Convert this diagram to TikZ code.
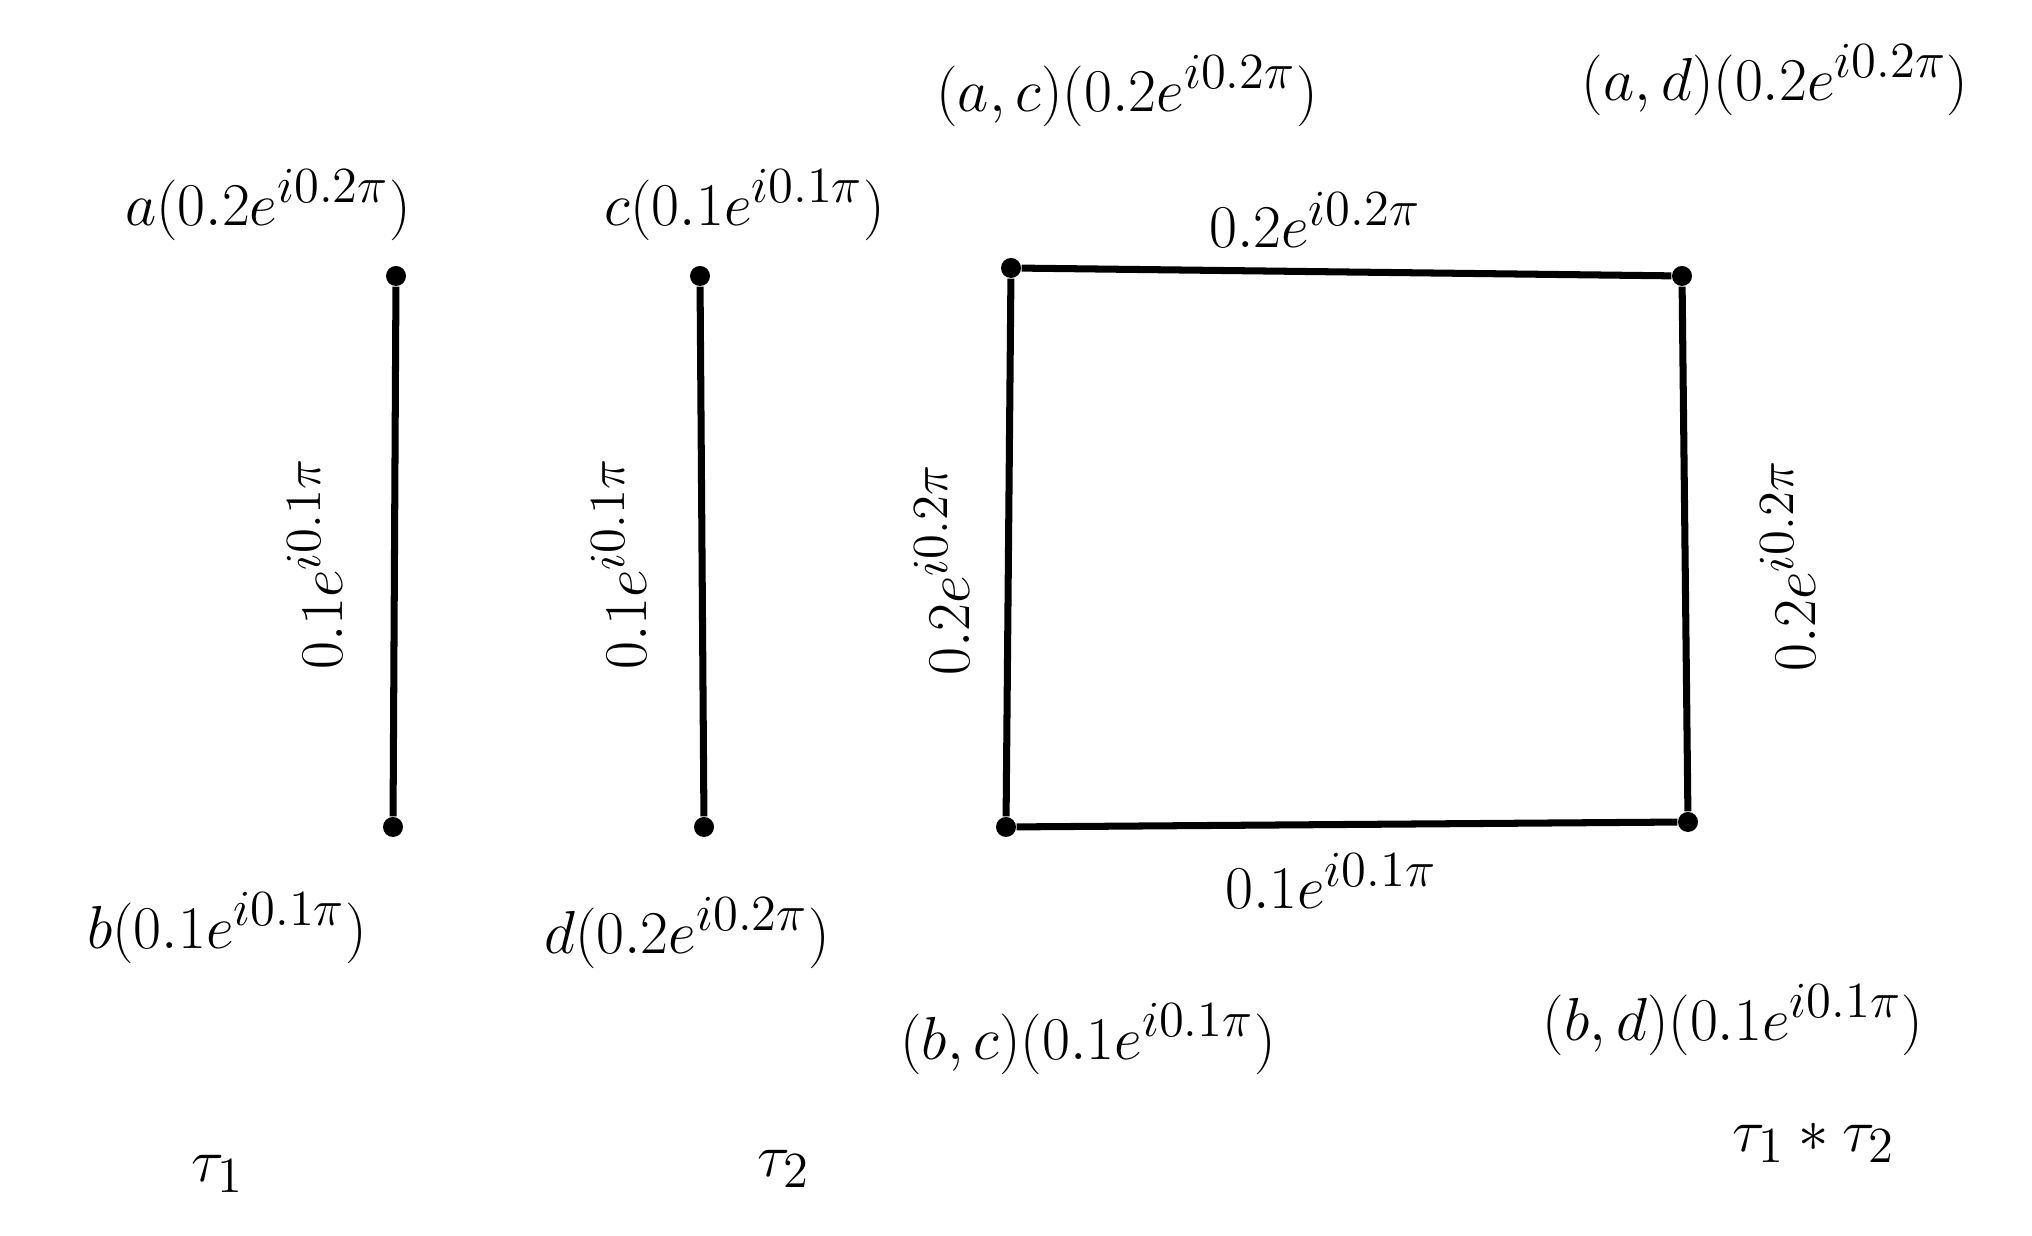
\documentclass[tikz,border=0pt]{standalone}
\usepackage{amsmath}
\usepackage{tikz}
\usetikzlibrary{positioning}
\DeclareMathSizes{18.8}{18.8}{14.2}{10}
\tikzstyle{edge} = [line width=2pt]
\tikzstyle{vtx} = [circle, fill=black, inner sep=0pt, minimum size=0.2cm]

\begin{document}
\begin{tikzpicture}[
    lbl/.style={font=\fontsize{18.8}{22}\selectfont},
    elbl/.style={font=\fontsize{18.8}{22}\selectfont, rotate=90}]

\useasboundingbox (0,0) rectangle (20.32,12.36);

% Vertices of tau_1 and tau_2
\node[vtx] (a) at (3.96,9.60) {};
\node[vtx] (b) at (3.93,4.09) {};
\node[vtx] (c) at (7.00,9.60) {};
\node[vtx] (d) at (7.04,4.09) {};

% Vertices of the product
\node[vtx] (ac) at (10.11,9.68) {};
\node[vtx] (ad) at (16.82,9.60) {};
\node[vtx] (bc) at (10.06,4.09) {};
\node[vtx] (bd) at (16.88,4.14) {};

% Vertex labels
\node[lbl] (la) at (2.68,10.31) {$a(0.2e^{i0.2\pi})$};
\node[lbl] (lb) at (2.27,3.08) {$b(0.1e^{i0.1\pi})$};
\node[lbl] (lc) at (7.45,10.31) {$c(0.1e^{i0.1\pi})$};
\node[lbl] (ld) at (6.87,3.03) {$d(0.2e^{i0.2\pi})$};
\node[lbl] (lac) at (11.27,11.45) {$(a,c)(0.2e^{i0.2\pi})$};
\node[lbl] (lad) at (17.75,11.56) {$(a,d)(0.2e^{i0.2\pi})$};
\node[lbl] (lbc) at (10.88,1.97) {$(b,c)(0.1e^{i0.1\pi})$};
\node[lbl] (lbd) at (17.33,2.16) {$(b,d)(0.1e^{i0.1\pi})$};

% Graph names
\node[lbl] (t1) at (2.18,0.62) {$\tau_1$};
\node[lbl] (t2) at (7.84,0.67) {$\tau_2$};
\node[lbl] (t12) at (18.14,0.93) {$\tau_1 * \tau_2$};

% Edges
\draw[edge] (a) -- (b);
\draw[edge] (c) -- (d);
\draw[edge] (ac) -- (ad) -- (bd) -- (bc) -- (ac);

% Edge labels
\node[elbl] (eab) at (3.15,6.72) {$0.1e^{i0.1\pi}$};
\node[elbl] (ecd) at (6.19,6.72) {$0.1e^{i0.1\pi}$};
\node[elbl] (eleft) at (9.42,6.66) {$0.2e^{i0.2\pi}$};
\node[elbl] (eright) at (17.88,6.70) {$0.2e^{i0.2\pi}$};
\node[lbl] (etop) at (13.15,10.16) {$0.2e^{i0.2\pi}$};
\node[lbl] (ebot) at (13.31,3.55) {$0.1e^{i0.1\pi}$};

\end{tikzpicture}
\end{document}
